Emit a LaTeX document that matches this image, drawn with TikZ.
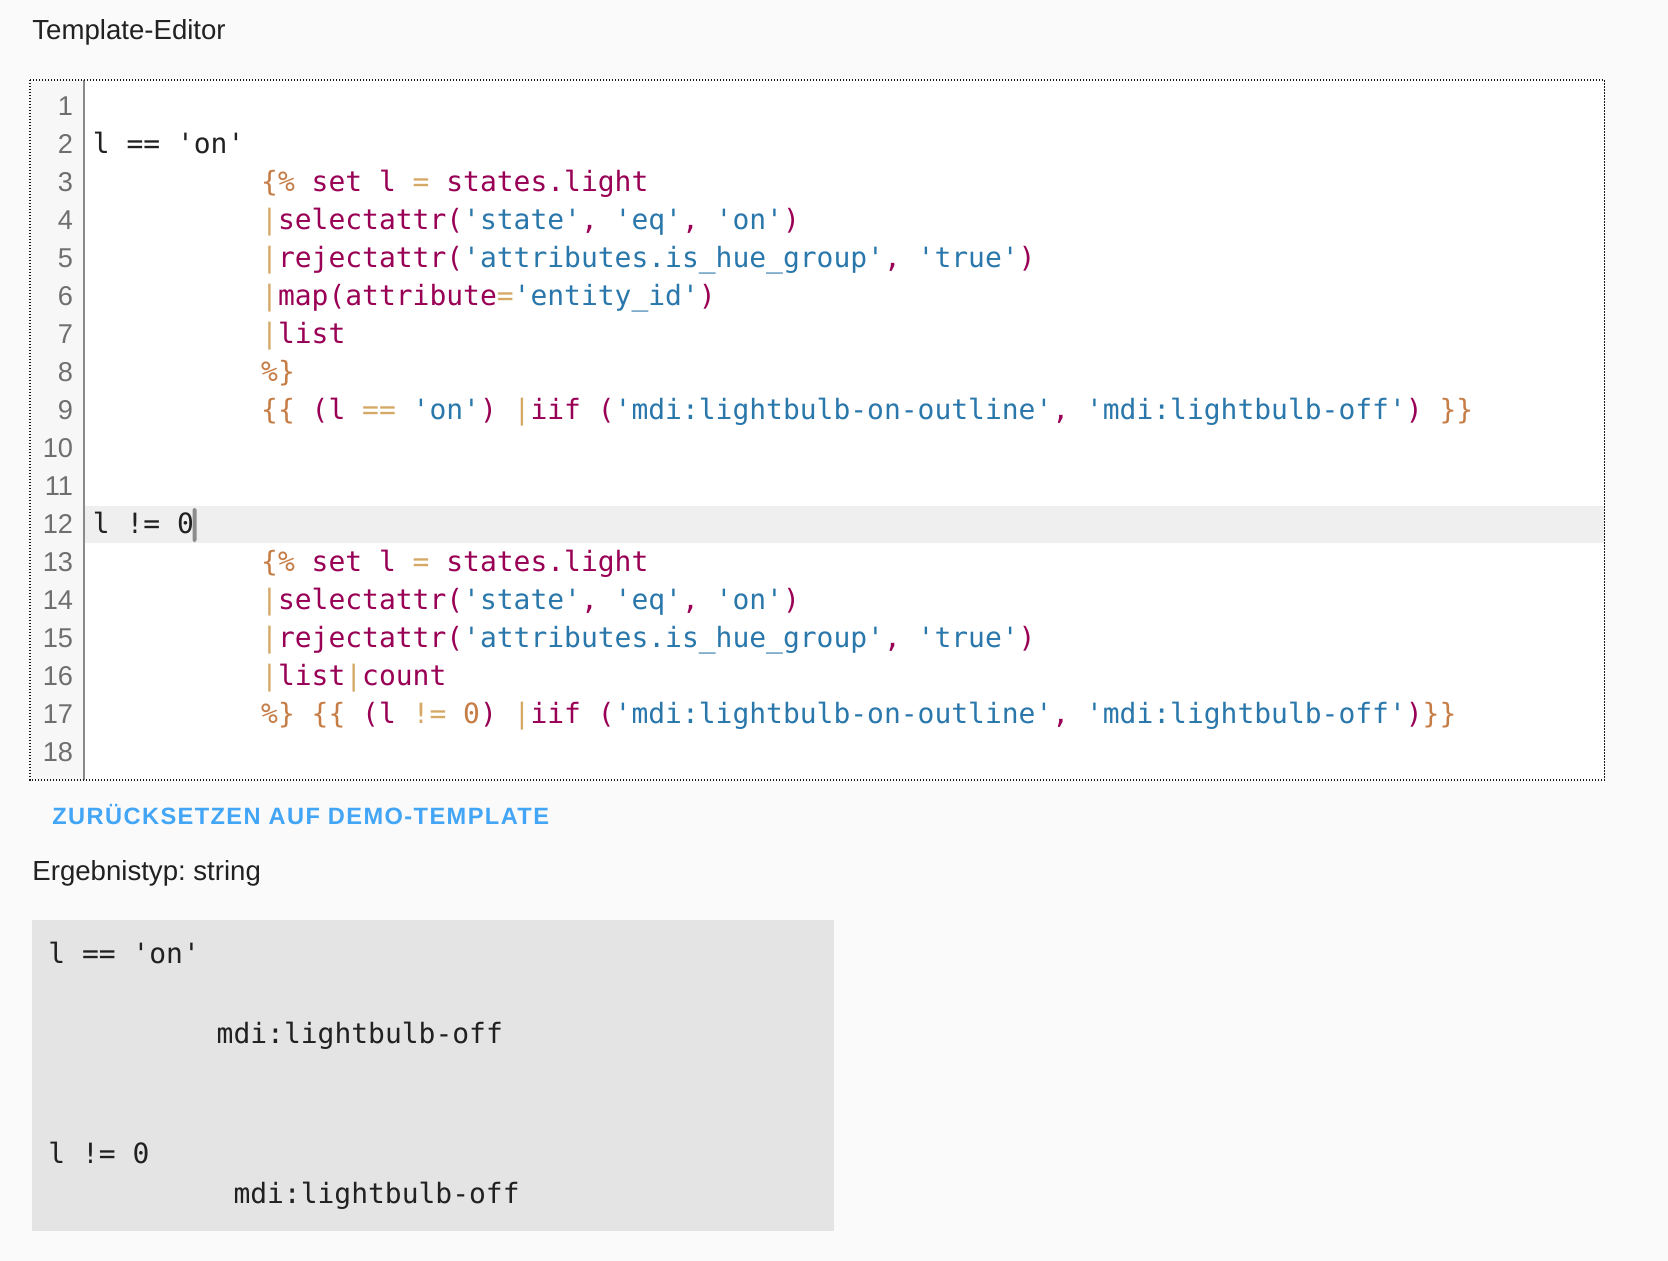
\documentclass[tikz,border=0pt]{standalone}
\usepackage{fontspec}
\setmainfont{Liberation Sans}
\setmonofont{DejaVu Sans Mono}
\newfontfamily\btnfont[LetterSpace=6]{Liberation Sans}
\frenchspacing
\definecolor{pagebg}{HTML}{FAFAFA}
\definecolor{txt}{HTML}{212121}
\definecolor{guttercol}{HTML}{F7F7F7}
\definecolor{gutline}{HTML}{8A8A8A}
\definecolor{hlcol}{HTML}{EFEFEF}
\definecolor{lncol}{HTML}{6F6F6F}
\definecolor{kwcol}{HTML}{990055}
\definecolor{strcol}{HTML}{2A77AB}
\definecolor{opcol}{HTML}{D5A866}
\definecolor{brcol}{HTML}{C67C45}
\definecolor{btncol}{HTML}{42A5F5}
\definecolor{outbg}{HTML}{E4E4E4}
\definecolor{curcol}{HTML}{8C8C8C}
\newcommand\cKw[1]{\textcolor{kwcol}{#1}}
\newcommand\cStr[1]{\textcolor{strcol}{#1}}
\newcommand\cOp[1]{\textcolor{opcol}{#1}}
\newcommand\cBr[1]{\textcolor{brcol}{#1}}
\tikzset{
  codetext/.style={font=\ttfamily\fontsize{13.98pt}{19pt}\selectfont, inner sep=0pt, anchor=base west, text=txt},
  lnum/.style={font=\fontsize{13.6pt}{16pt}\selectfont, inner sep=0pt, anchor=base east, text=lncol},
  label/.style={font=\fontsize{13.8pt}{16pt}\selectfont, inner sep=0pt, anchor=base west, text=txt},
  btn/.style={font=\btnfont\bfseries\fontsize{11.8pt}{14pt}\selectfont, inner sep=0pt, anchor=base west, text=btncol},
  dotborder/.style={draw=black!90, line width=0.6pt, dash pattern=on 0.7pt off 0.8pt}
}
\begin{document}
\begin{tikzpicture}[x=0.5pt,y=-0.5pt]
\useasboundingbox (0,0) rectangle (1668,1261);
\fill[pagebg] (0,0) rectangle (1668,1261);

\node[label] (title) at (32,40) {Template-Editor};

% editor
\fill[white] (30,80) rectangle (1604.5,780);
\fill[guttercol] (30,80) rectangle (83.5,780);
\fill[hlcol] (84.5,506) rectangle (1603.5,543);
\draw[gutline, line width=1pt] (83.5,80) -- (83.5,780);
\draw[dotborder] (30,80) rectangle (1604.5,780);

% line numbers
\node[lnum] (n1) at (73.5,115.4) {1};
\node[lnum] (n2) at (73.5,153.4) {2};
\node[lnum] (n3) at (73.5,191.4) {3};
\node[lnum] (n4) at (73.5,229.4) {4};
\node[lnum] (n5) at (73.5,267.4) {5};
\node[lnum] (n6) at (73.5,305.4) {6};
\node[lnum] (n7) at (73.5,343.4) {7};
\node[lnum] (n8) at (73.5,381.4) {8};
\node[lnum] (n9) at (73.5,419.4) {9};
\node[lnum] (n10) at (73.5,457.4) {10};
\node[lnum] (n11) at (73.5,495.4) {11};
\node[lnum] (n12) at (73.5,533.4) {12};
\node[lnum] (n13) at (73.5,571.4) {13};
\node[lnum] (n14) at (73.5,609.4) {14};
\node[lnum] (n15) at (73.5,647.4) {15};
\node[lnum] (n16) at (73.5,685.4) {16};
\node[lnum] (n17) at (73.5,723.4) {17};
\node[lnum] (n18) at (73.5,761.4) {18};

% code
\node[codetext] (c2) at (92.5,153.4) {l == 'on'};
\node[codetext] (c3) at (260.8,191.4) {\cBr{\{\%} \cKw{set l} \cOp{=} \cKw{states.light}};
\node[codetext] (c4) at (260.8,229.4) {\cOp{|}\cKw{selectattr(}\cStr{'state'}\cKw{,} \cStr{'eq'}\cKw{,} \cStr{'on'}\cKw{)}};
\node[codetext] (c5) at (260.8,267.4) {\cOp{|}\cKw{rejectattr(}\cStr{'attributes.is\_hue\_group'}\cKw{,} \cStr{'true'}\cKw{)}};
\node[codetext] (c6) at (260.8,305.4) {\cOp{|}\cKw{map(attribute}\cOp{=}\cStr{'entity\_id'}\cKw{)}};
\node[codetext] (c7) at (260.8,343.4) {\cOp{|}\cKw{list}};
\node[codetext] (c8) at (260.8,381.4) {\cBr{\%\}}};
\node[codetext] (c9) at (260.8,419.4) {\cBr{\{\{} \cKw{(l} \cOp{==} \cStr{'on'}\cKw{)} \cOp{|}\cKw{iif} \cKw{(}\cStr{'mdi:lightbulb-on-outline'}\cKw{,} \cStr{'mdi:lightbulb-off'}\cKw{)} \cBr{\}\}}};
\node[codetext] (c12) at (92.5,533.4) {l != 0};
\fill[curcol, rounded corners=0.8pt] (192.5,508) rectangle (196.5,542);
\node[codetext] (c13) at (260.8,571.4) {\cBr{\{\%} \cKw{set l} \cOp{=} \cKw{states.light}};
\node[codetext] (c14) at (260.8,609.4) {\cOp{|}\cKw{selectattr(}\cStr{'state'}\cKw{,} \cStr{'eq'}\cKw{,} \cStr{'on'}\cKw{)}};
\node[codetext] (c15) at (260.8,647.4) {\cOp{|}\cKw{rejectattr(}\cStr{'attributes.is\_hue\_group'}\cKw{,} \cStr{'true'}\cKw{)}};
\node[codetext] (c16) at (260.8,685.4) {\cOp{|}\cKw{list}\cOp{|}\cKw{count}};
\node[codetext] (c17) at (260.8,723.4) {\cBr{\%\}} \cBr{\{\{} \cKw{(l} \cOp{!=} \cBr{0}\cKw{)} \cOp{|}\cKw{iif} \cKw{(}\cStr{'mdi:lightbulb-on-outline'}\cKw{,} \cStr{'mdi:lightbulb-off'}\cKw{)}\cBr{\}\}}};

% button and result type
\node[btn] (reset) at (52,824) {ZURÜCKSETZEN AUF DEMO-TEMPLATE};
\node[label] (rtype) at (32,880) {Ergebnistyp: string};

% output
\fill[outbg] (32,920) rectangle (834,1231);
\node[codetext] (o1) at (48,963) {l == 'on'};
\node[codetext] (o2) at (216.3,1043) {mdi:lightbulb-off};
\node[codetext] (o3) at (48,1163) {l != 0};
\node[codetext] (o4) at (233.1,1203) {mdi:lightbulb-off};
\end{tikzpicture}
\end{document}
